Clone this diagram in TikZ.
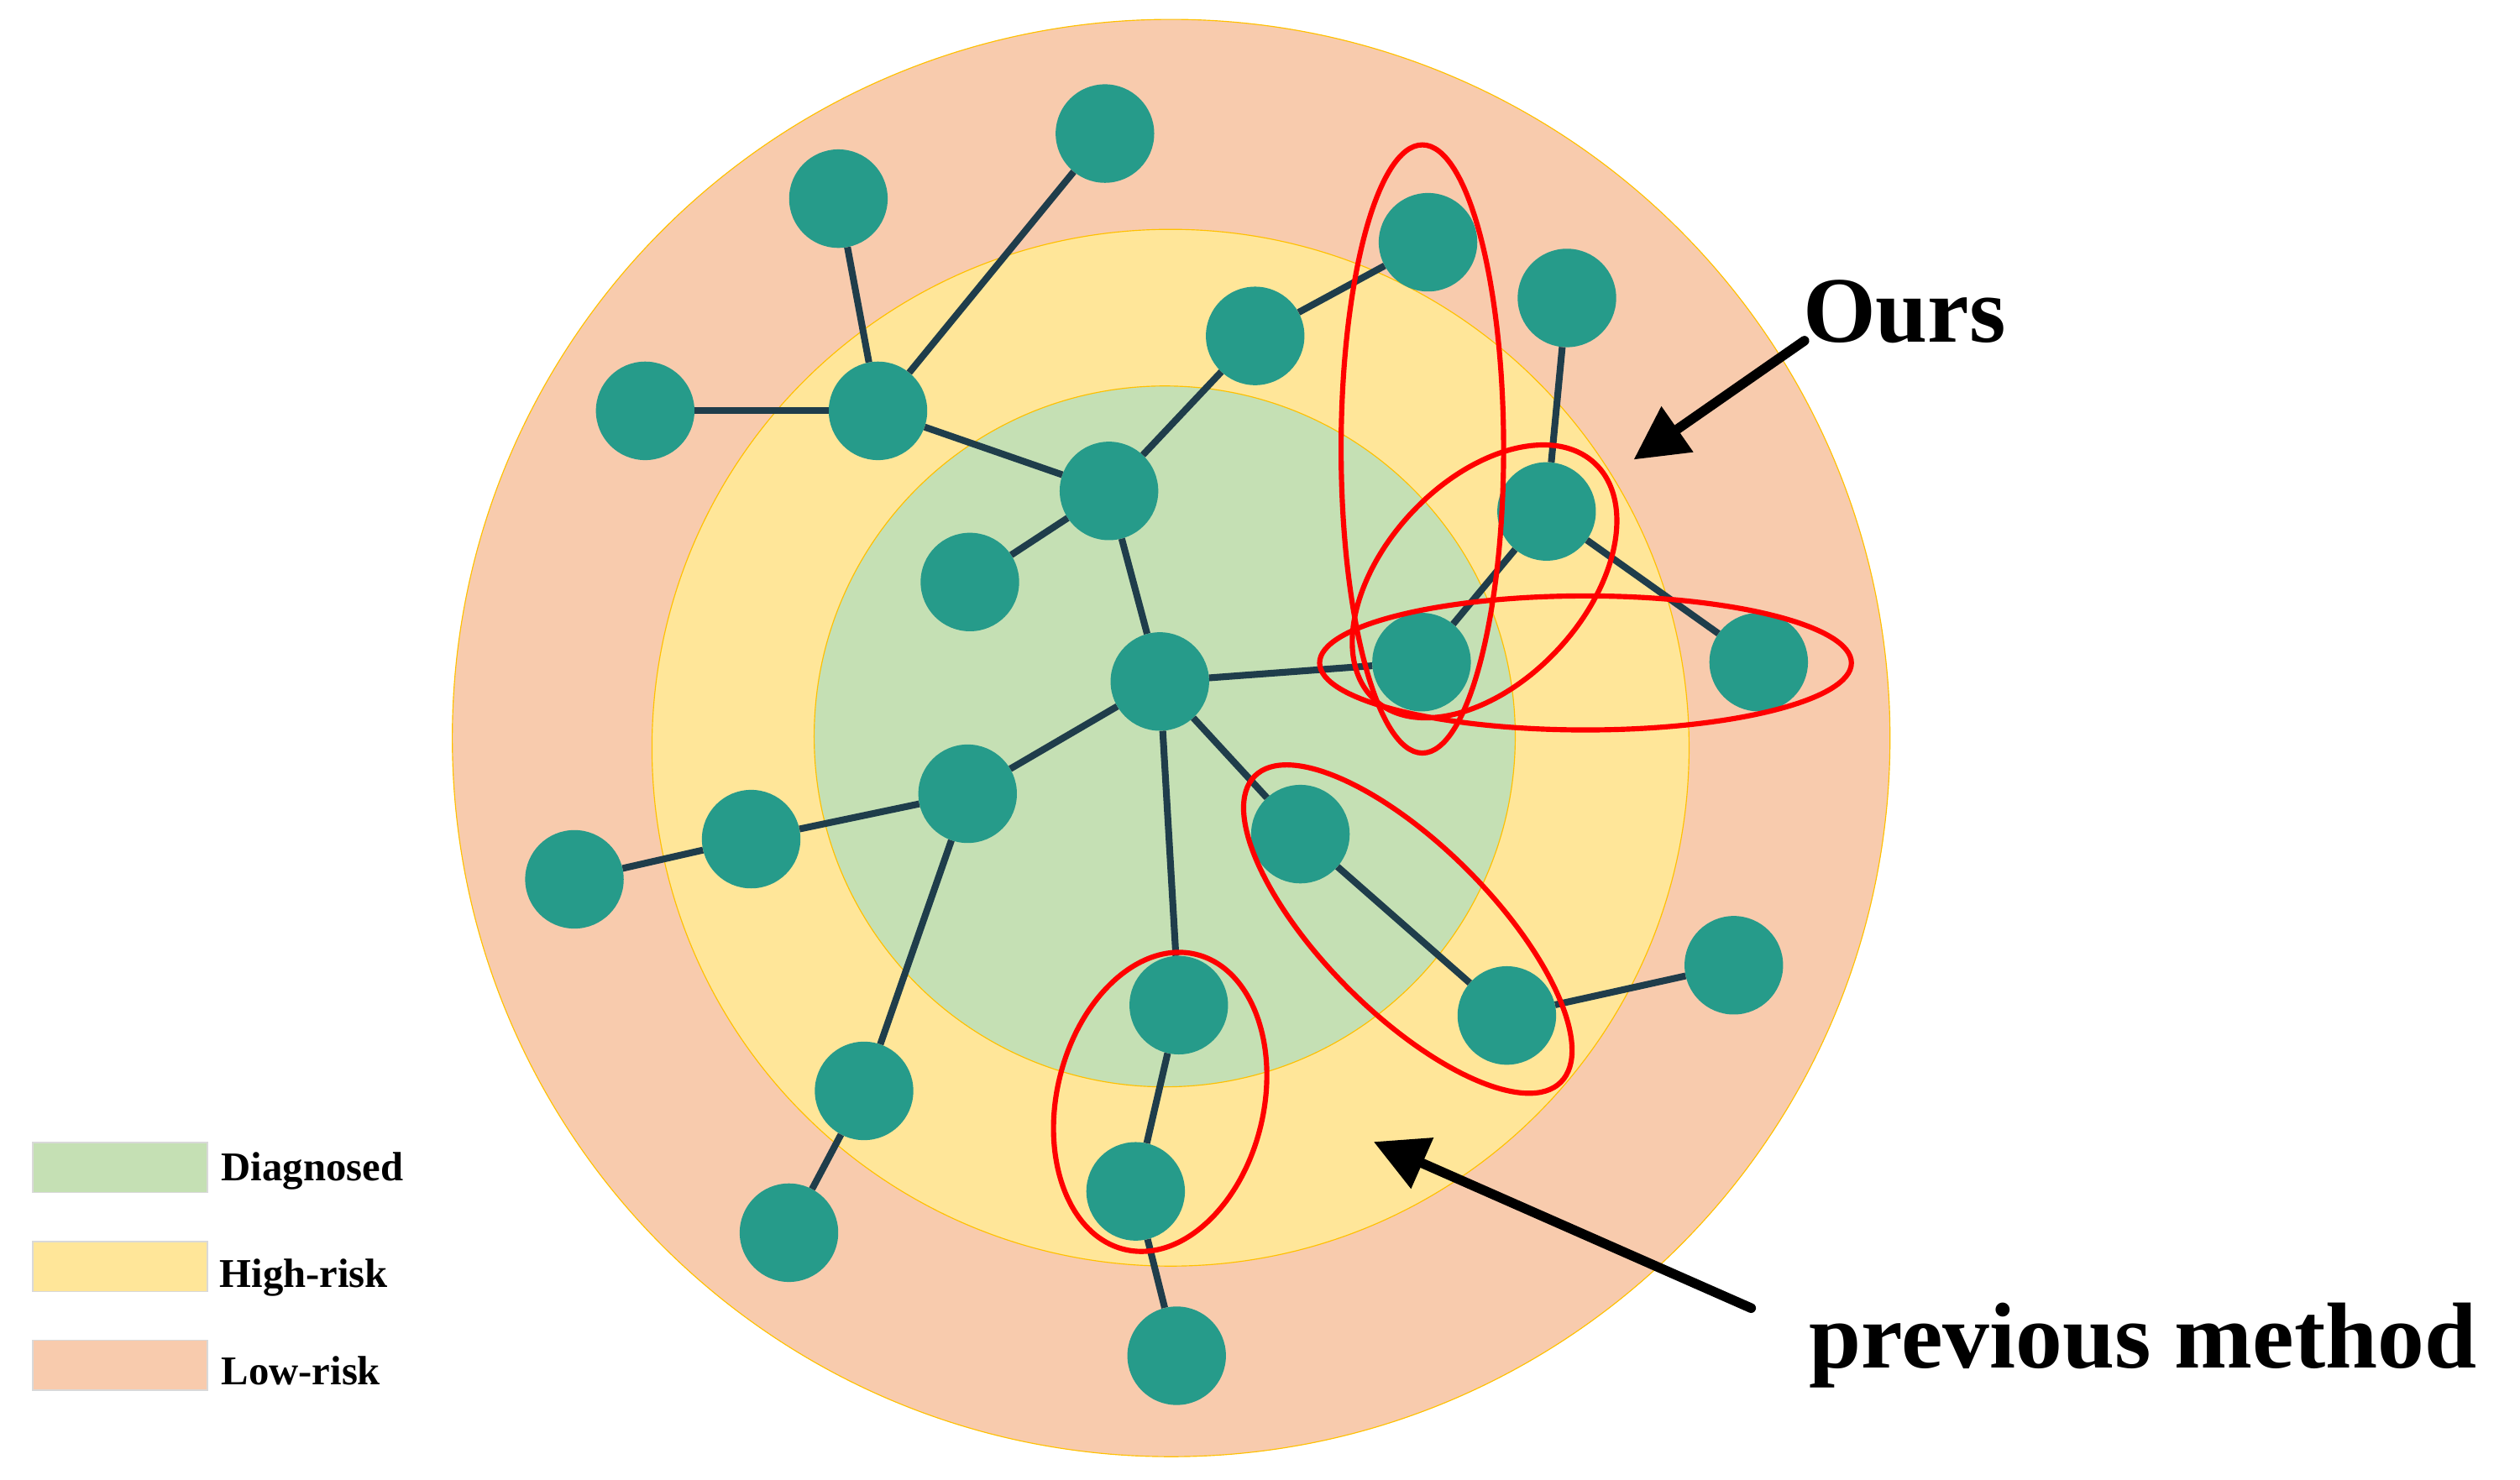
\documentclass[tikz,border=0pt]{standalone}
\usepackage{fontspec}
\setmainfont{Liberation Serif}
\usetikzlibrary{arrows.meta}
\definecolor{lowrisk}{HTML}{F8CBAD}
\definecolor{highrisk}{HTML}{FFE699}
\definecolor{diagcol}{HTML}{C5E0B4}
\definecolor{ringcol}{HTML}{FFC000}
\definecolor{nodeteal}{HTML}{269B8A}
\definecolor{edgecol}{HTML}{1F3D4B}
\definecolor{legborder}{HTML}{D9D9D9}
\begin{document}
\begin{tikzpicture}[x=1mm,y=-1mm,
  gnode/.style={circle,fill=nodeteal,inner sep=0pt,minimum size=61mm},
  link/.style={draw=edgecol,line width=4.2mm},
  grp/.style={draw=red,line width=3.2mm},
  zone/.style={draw=ringcol,line width=0.6mm},
  pointer/.style={draw=black,line width=6mm,line cap=round,-{Triangle[length=33mm,width=33mm]}},
  bigtext/.style={font=\bfseries\fontsize{165}{198}\selectfont,inner sep=0pt,anchor=base west},
  legtext/.style={font=\bfseries\fontsize{72}{86}\selectfont,inner sep=0pt,anchor=base west},
  legbox/.style={draw=legborder,line width=0.8mm,minimum width=108mm,minimum height=31mm,inner sep=0pt,anchor=north west}]
\useasboundingbox (0,0) rectangle (1560,916.45);
\fill[white] (0,0) rectangle (1560,916.45);
% zones
\filldraw[zone,fill=lowrisk] (725,457) circle [radius=445];
\filldraw[zone,fill=highrisk] (724.6,463) circle [radius=321];
\filldraw[zone,fill=diagcol] (721,456) circle [radius=217];
% nodes
\node[gnode] (n1) at (684,82.7) {};
\node[gnode] (n2) at (519,123) {};
\node[gnode] (n3) at (399.4,254.4) {};
\node[gnode] (n4) at (543.5,254.4) {};
\node[gnode] (n5) at (777,208) {};
\node[gnode] (n6) at (884,150) {};
\node[gnode] (n7) at (970,184.5) {};
\node[gnode] (n8) at (686.5,304) {};
\node[gnode] (n9) at (600.4,360.4) {};
\node[gnode] (n10) at (957.4,316.7) {};
\node[gnode] (n11) at (880,410) {};
\node[gnode] (n12) at (1088.7,410) {};
\node[gnode] (n13) at (718,422) {};
\node[gnode] (n14) at (599,491.5) {};
\node[gnode] (n15) at (465,519.6) {};
\node[gnode] (n16) at (355.6,544.5) {};
\node[gnode] (n17) at (805,516.5) {};
\node[gnode] (n18) at (932.8,628.8) {};
\node[gnode] (n19) at (1073.3,597.7) {};
\node[gnode] (n20) at (729.7,622.4) {};
\node[gnode] (n21) at (534.9,675.5) {};
\node[gnode] (n22) at (703,737.7) {};
\node[gnode] (n23) at (488.4,763.3) {};
\node[gnode] (n24) at (728.4,839.5) {};
% edges
\foreach \a/\b in {n1/n4,n2/n4,n3/n4,n4/n8,n8/n5,n5/n6,n8/n9,n8/n13,n13/n11,n11/n10,n10/n7,n10/n12,
  n13/n14,n14/n15,n15/n16,n14/n21,n21/n23,n13/n20,n13/n17,n17/n18,n18/n19,n20/n22,n22/n24}
  \draw[link] (\a) -- (\b);
% groups
\draw[grp] (880.5,278) ellipse [x radius=50.3, y radius=188.3];
\draw[grp] (981.5,410.5) ellipse [x radius=164.6, y radius=41.5];
\draw[grp, rotate around={47:(919,360)}] (919,360) ellipse [x radius=100, y radius=62];
\draw[grp, rotate around={-45:(871.5,575.3)}] (871.5,575.3) ellipse [x radius=134, y radius=52];
\draw[grp, rotate around={-13.6:(718.2,682.3)}] (718.2,682.3) ellipse [x radius=64, y radius=94];
% labels and pointers
\node[bigtext] (ours) at (1116,212) {Ours};
\node[bigtext] (prev) at (1120,847) {previous method};
\coordinate (oursTail) at (1117,211);
\coordinate (oursTip) at (1011.3,284.6);
\coordinate (prevTail) at (1084,810);
\coordinate (prevTip) at (850.3,707);
\draw[pointer] (oursTail) -- (oursTip);
\draw[pointer] (prevTail) -- (prevTip);
% legend
\node[legbox,fill=diagcol] (legD) at (20,707) {};
\node[legbox,fill=highrisk] (legH) at (20,768.4) {};
\node[legbox,fill=lowrisk] (legL) at (20,829.5) {};
\node[legtext] (txtD) at (137,731) {Diagnosed};
\node[legtext] (txtH) at (136,797.3) {High-risk};
\node[legtext] (txtL) at (137,857.2) {Low-risk};
\end{tikzpicture}
\end{document}
